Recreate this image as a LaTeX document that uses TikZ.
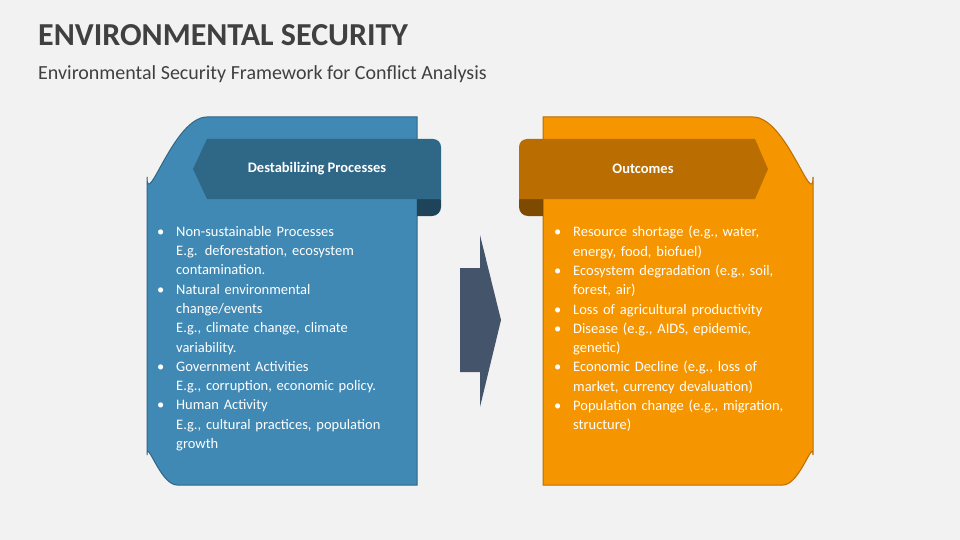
\documentclass[tikz,border=0pt]{standalone}
\usepackage{fontspec}
\setmainfont{Carlito}
\definecolor{bg}{HTML}{F2F2F2}
\definecolor{bluep}{HTML}{4089B4}
\definecolor{blueb}{HTML}{2F6786}
\definecolor{bluec}{HTML}{1F445A}
\definecolor{oranp}{HTML}{F59500}
\definecolor{oranb}{HTML}{BA6D00}
\definecolor{oranc}{HTML}{7D4A00}
\definecolor{arr}{HTML}{44546A}
\definecolor{ttl}{HTML}{404040}
\begin{document}
\begin{tikzpicture}[x=1pt,y=-1pt,
  body/.style={text=white,font=\fontsize{14.5}{19.3}\selectfont,anchor=north west,text width=235pt,align=left,inner sep=0pt},
  head/.style={text=white,font=\bfseries\fontsize{14.5}{17}\selectfont}]
\useasboundingbox[fill=bg] (0,0) rectangle (960,540);
\node[anchor=west,text=ttl,font=\bfseries\fontsize{32}{36}\selectfont,inner sep=0pt] (title) at (38,35) {ENVIRONMENTAL SECURITY};
\node[anchor=west,text=ttl,font=\fontsize{20}{24}\selectfont,inner sep=0pt] (sub) at (38,74) {Environmental Security Framework for Conflict Analysis};
% left panel
\draw[fill=bluep,draw=blueb,line width=1pt] (417,117) -- (417,485) -- (177,485) to[out=180,in=90] (147,455) -- (147,177) to[out=-90,in=180] (207,117) -- cycle;
\fill[bluec] (417,190) -- (433,190) to[out=0,in=-90] (441,199) -- (441,207) to[out=-90,in=0] (432,216) -- (417,216) -- cycle;
\fill[blueb] (207,139) -- (433,139) to[out=0,in=90] (441,147) -- (441,199) -- (207,199) -- (193,169) -- cycle;
\node[head] (lh) at (317,169) {Destabilizing Processes};
% right panel
\draw[fill=oranp,draw=oranb,line width=1pt] (543,117) -- (543,485) -- (783,485) to[out=0,in=90] (813,455) -- (813,177) to[out=-90,in=0] (753,117) -- cycle;
\fill[oranc] (543,190) -- (527,190) to[out=180,in=-90] (519,199) -- (519,207) to[out=-90,in=180] (528,216) -- (543,216) -- cycle;
\fill[oranb] (755,139) -- (527,139) to[out=180,in=90] (519,147) -- (519,199) -- (755,199) -- (768,169) -- cycle;
\node[head] (rh) at (643,169) {Outcomes};
% arrow
\fill[arr] (460,268) -- (480,268) -- (480,235) -- (501,320) -- (480,407) -- (480,372) -- (460,372) -- cycle;
\node[body] (lt) at (157,226) {%
\makebox[19pt][l]{•}Non-sustainable Processes\\
\hspace*{19pt}E.g. deforestation, ecosystem\\
\hspace*{19pt}contamination.\\
\makebox[19pt][l]{•}Natural environmental\\
\hspace*{19pt}change/events\\
\hspace*{19pt}E.g., climate change, climate\\
\hspace*{19pt}variability.\\
\makebox[19pt][l]{•}Government Activities\\
\hspace*{19pt}E.g., corruption, economic policy.\\
\makebox[19pt][l]{•}Human Activity\\
\hspace*{19pt}E.g., cultural practices, population\\
\hspace*{19pt}growth};
\node[body] (rt) at (554,226) {%
\makebox[19pt][l]{•}Resource shortage (e.g., water,\\
\hspace*{19pt}energy, food, biofuel)\\
\makebox[19pt][l]{•}Ecosystem degradation (e.g., soil,\\
\hspace*{19pt}forest, air)\\
\makebox[19pt][l]{•}Loss of agricultural productivity\\
\makebox[19pt][l]{•}Disease (e.g., AIDS, epidemic,\\
\hspace*{19pt}genetic)\\
\makebox[19pt][l]{•}Economic Decline (e.g., loss of\\
\hspace*{19pt}market, currency devaluation)\\
\makebox[19pt][l]{•}Population change (e.g., migration,\\
\hspace*{19pt}structure)};
\end{tikzpicture}
\end{document}
